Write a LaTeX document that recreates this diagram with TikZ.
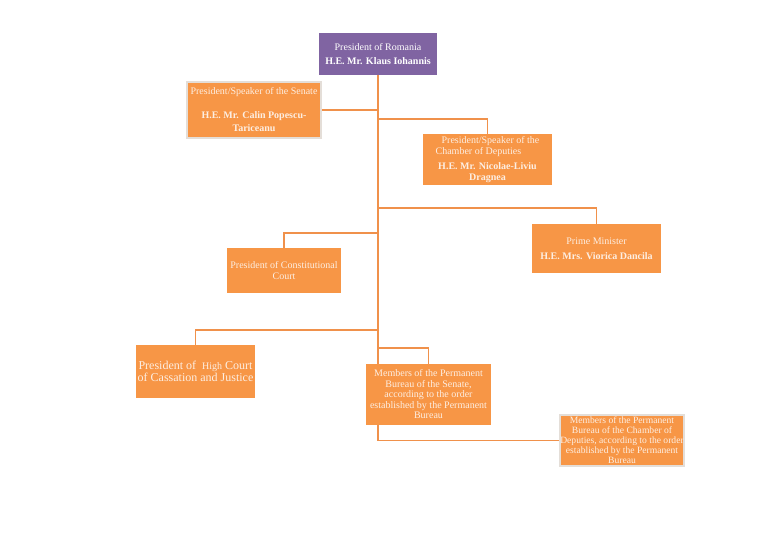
\documentclass[tikz,border=0pt]{standalone}
\usepackage{fontspec}
\setmainfont{Liberation Serif}
\usetikzlibrary{backgrounds}
\definecolor{romPurple}{RGB}{128,100,162}
\definecolor{boxOrange}{RGB}{247,150,70}
\definecolor{lineOrange}{RGB}{240,145,75}
\definecolor{paleText}{RGB}{253,238,226}
\definecolor{rimGray}{RGB}{228,222,216}
\tikzset{
    office/.style={fill=boxOrange, text=paleText, align=center, inner sep=0pt,
        font=\fontsize{10}{11}\selectfont},
    rim/.style={draw=rimGray, line width=1.5pt},
    link/.style={draw=lineOrange, line width=1.8pt}
}
\begin{document}
\begin{tikzpicture}[x=1pt,y=-1pt]
    \useasboundingbox (0,0) rectangle (768,543);
    \node[office, fill=romPurple, text=white, minimum width=118pt, minimum height=42pt] (pres) at (378,54)
        {President of Romania\\[3pt]\textbf{H.E. Mr. Klaus Iohannis}};
    \node[office, rim, minimum width=134pt, minimum height=56pt] (senate) at (254,110)
        {President/Speaker of the Senate\\[13pt]\textbf{H.E. Mr. Calin Popescu-}\\[2pt]\textbf{Tariceanu}};
    \node[office, minimum width=129pt, minimum height=51pt] (chamber) at (487.5,159.5)
        {\hspace*{6pt}President/Speaker of the\hfill\null\\Chamber of Deputies\hfill\null\\[4pt]\textbf{H.E. Mr. Nicolae-Liviu}\\\textbf{Dragnea}};
    \node[office, minimum width=129pt, minimum height=49pt] (pm) at (596.5,248.5)
        {Prime Minister\\[4pt]\textbf{H.E. Mrs. Viorica Dancila}};
    \node[office, minimum width=114pt, minimum height=45pt] (cc) at (284,270.5)
        {President of Constitutional\\Court};
    \node[office, minimum width=119pt, minimum height=53pt, font=\fontsize{12}{12}\selectfont] (hc) at (195.5,371.5)
        {President of \ {\fontsize{10}{12}\selectfont High} Court\\of Cassation and Justice};
    \node[office, minimum width=125pt, minimum height=61pt, font=\fontsize{10}{10.5}\selectfont] (sm) at (428.5,394.5)
        {Members of the Permanent\\Bureau of the Senate,\\according to the order\\established by the Permanent\\Bureau};
    \node[office, rim, minimum width=124pt, minimum height=51pt, font=\fontsize{9.6}{10}\selectfont] (cm) at (622,440.5)
        {Members of the Permanent\\Bureau of the Chamber of\\Deputies, according to the order\\established by the Permanent\\Bureau};
    \coordinate (jChamber) at (378,119);
    \coordinate (jPM) at (378,208);
    \coordinate (jCC) at (378,233);
    \coordinate (jHC) at (378,330);
    \coordinate (jSM) at (378,348);
    \begin{scope}[on background layer]
        \draw[link] (pres.south) |- (cm.west);
        \draw[link] (senate.east) -- (senate.east -| pres.south);
        \draw[link] (jChamber) -| (chamber.north);
        \draw[link] (jPM) -| (pm.north);
        \draw[link] (jCC) -| (cc.north);
        \draw[link] (jHC) -| (hc.north);
        \draw[link] (jSM) -| (sm.north);
    \end{scope}
\end{tikzpicture}
\end{document}
